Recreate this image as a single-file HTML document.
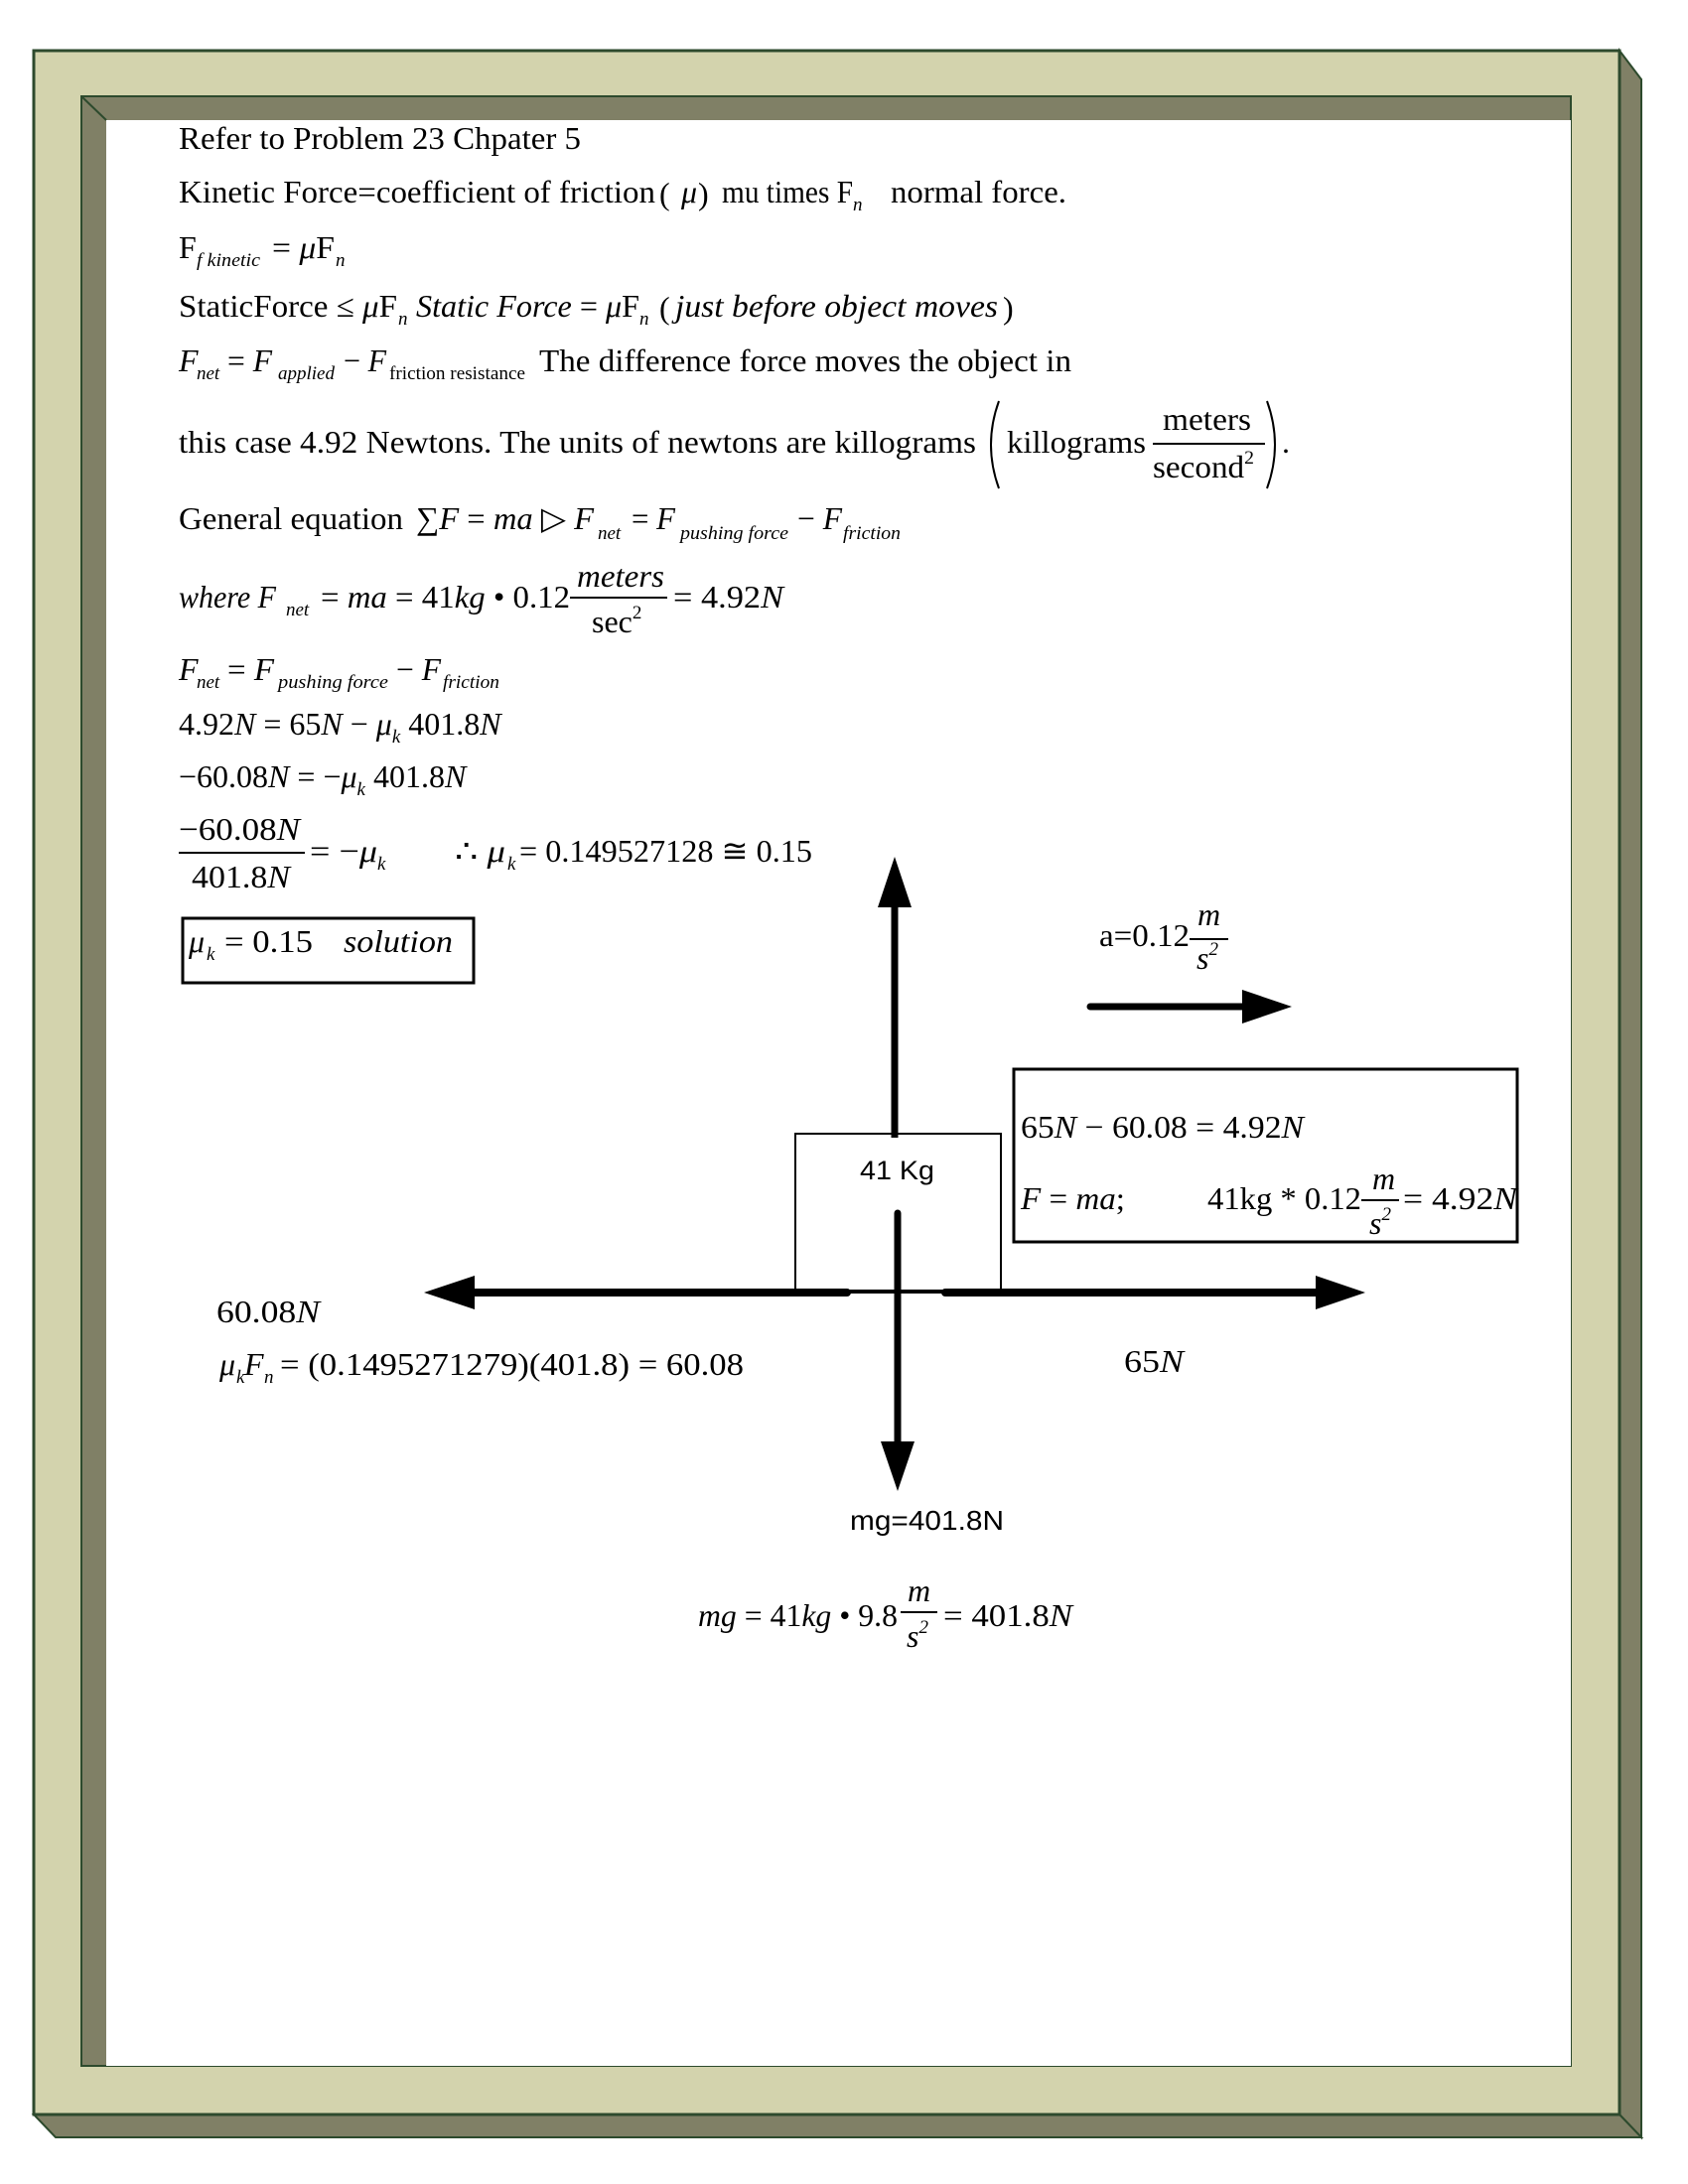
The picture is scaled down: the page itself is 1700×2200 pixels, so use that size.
<!DOCTYPE html>
<html><head><meta charset="utf-8"><style>
html,body{margin:0;padding:0;background:#fff;}
svg{display:block;}
text{font-family:"Liberation Serif",serif;fill:#000;}
.m{font-size:32px;}
.s{font-size:19px;}
.i{font-style:italic;}
.sans{font-family:"Liberation Sans",sans-serif;}
</style></head><body>
<svg width="1700" height="2200" viewBox="0 0 1700 2200" xmlns="http://www.w3.org/2000/svg">
<polygon points="1631,51 1653,80 1653,2153 1631,2130" fill="#808066" stroke="#2d4a2d" stroke-width="2"/>
<polygon points="34,2130 1631,2130 1653,2153 56,2153" fill="#808066" stroke="#2d4a2d" stroke-width="2"/>
<rect x="34" y="51" width="1597" height="2079" fill="#d3d3ad" stroke="#2d4a2d" stroke-width="3"/>
<rect x="82" y="97" width="1500" height="1984" fill="#808066" stroke="#2d4a2d" stroke-width="2"/>
<rect x="107" y="121" width="1475" height="1960" fill="#fff"/>
<line x1="82" y1="97" x2="107" y2="121" stroke="#2d4a2d" stroke-width="2"/>

<text class="m" x="180" y="150" textLength="405" lengthAdjust="spacingAndGlyphs">Refer to Problem 23 Chpater 5</text>

<text class="m" x="180" y="204" textLength="480" lengthAdjust="spacingAndGlyphs">Kinetic Force=coefficient of friction</text>
<text class="m" x="664" y="206">(</text><text class="m i" x="686" y="204">μ</text><text class="m" x="703" y="206">)</text>
<text class="m" x="727" y="204" textLength="132" lengthAdjust="spacingAndGlyphs">mu times F</text>
<text class="s i" x="859" y="212">n</text>
<text class="m" x="897" y="204" textLength="177" lengthAdjust="spacingAndGlyphs">normal force.</text>

<text class="m" x="180" y="260">F</text>
<text class="s i" x="198" y="268" textLength="64" lengthAdjust="spacingAndGlyphs">f kinetic</text>
<text class="m" x="274" y="260" textLength="63" lengthAdjust="spacingAndGlyphs">= <tspan class="i">μ</tspan>F</text>
<text class="s i" x="338" y="268">n</text>

<text class="m" x="180" y="319" textLength="220" lengthAdjust="spacingAndGlyphs">StaticForce ≤ <tspan class="i">μ</tspan>F</text>
<text class="s i" x="401" y="327">n</text>
<text class="m" x="419" y="319" textLength="225" lengthAdjust="spacingAndGlyphs"><tspan class="i">Static Force</tspan> = <tspan class="i">μ</tspan>F</text>
<text class="s i" x="644" y="327">n</text>
<text class="m" x="664" y="321">(</text>
<text class="m i" x="680" y="319" textLength="325" lengthAdjust="spacingAndGlyphs">just before object moves</text>
<text class="m" x="1010" y="321">)</text>

<text class="m i" x="180" y="374">F</text>
<text class="s i" x="198" y="382">net</text>
<text class="m" x="229" y="374" textLength="45" lengthAdjust="spacingAndGlyphs">= <tspan class="i">F</tspan></text>
<text class="s i" x="280" y="382" textLength="57" lengthAdjust="spacingAndGlyphs">applied</text>
<text class="m" x="346" y="374" textLength="43" lengthAdjust="spacingAndGlyphs">− <tspan class="i">F</tspan></text>
<text class="s" x="392" y="382" textLength="137" lengthAdjust="spacingAndGlyphs">friction resistance</text>
<text class="m" x="543" y="374" textLength="536" lengthAdjust="spacingAndGlyphs">The difference force moves the object in</text>

<text class="m" x="180" y="456" textLength="803" lengthAdjust="spacingAndGlyphs">this case 4.92 Newtons. The units of newtons are killograms</text>
<path d="M1006,404 Q990,448 1006,492" fill="none" stroke="#000" stroke-width="2"/>
<text class="m" x="1014" y="456" textLength="140" lengthAdjust="spacingAndGlyphs">killograms</text>
<text class="m" x="1171" y="433" textLength="89" lengthAdjust="spacingAndGlyphs">meters</text>
<line x1="1161" y1="447" x2="1274" y2="447" stroke="#000" stroke-width="2"/>
<text class="m" x="1161" y="481" textLength="102" lengthAdjust="spacingAndGlyphs">second<tspan class="s" dy="-14">2</tspan></text>
<path d="M1276,404 Q1292,448 1276,492" fill="none" stroke="#000" stroke-width="2"/>
<text class="m" x="1291" y="456">.</text>

<text class="m" x="180" y="533" textLength="226" lengthAdjust="spacingAndGlyphs">General equation</text>
<text class="m" x="419" y="533" textLength="179" lengthAdjust="spacingAndGlyphs">∑<tspan class="i">F</tspan> = <tspan class="i">ma</tspan> ▷ <tspan class="i">F</tspan></text>
<text class="s i" x="602" y="543">net</text>
<text class="m" x="636" y="533" textLength="44" lengthAdjust="spacingAndGlyphs">= <tspan class="i">F</tspan></text>
<text class="s i" x="685" y="543" textLength="109" lengthAdjust="spacingAndGlyphs">pushing force</text>
<text class="m" x="803" y="533" textLength="45" lengthAdjust="spacingAndGlyphs">− <tspan class="i">F</tspan></text>
<text class="s i" x="849" y="543" textLength="58" lengthAdjust="spacingAndGlyphs">friction</text>

<text class="m i" x="180" y="612" textLength="98" lengthAdjust="spacingAndGlyphs">where F</text>
<text class="s i" x="288" y="620">net</text>
<text class="m" x="323" y="612" textLength="251" lengthAdjust="spacingAndGlyphs">= <tspan class="i">ma</tspan> = 41<tspan class="i">kg</tspan> • 0.12</text>
<text class="m i" x="581" y="591" textLength="88" lengthAdjust="spacingAndGlyphs">meters</text>
<line x1="574" y1="602" x2="672" y2="602" stroke="#000" stroke-width="2"/>
<text class="m" x="596" y="637">sec<tspan class="s" dy="-14">2</tspan></text>
<text class="m" x="678" y="612" textLength="111" lengthAdjust="spacingAndGlyphs">= 4.92<tspan class="i">N</tspan></text>

<text class="m i" x="180" y="685">F</text>
<text class="s i" x="198" y="693">net</text>
<text class="m" x="229" y="685" textLength="47" lengthAdjust="spacingAndGlyphs">= <tspan class="i">F</tspan></text>
<text class="s i" x="280" y="693" textLength="111" lengthAdjust="spacingAndGlyphs">pushing force</text>
<text class="m" x="399" y="685" textLength="45" lengthAdjust="spacingAndGlyphs">− <tspan class="i">F</tspan></text>
<text class="s i" x="446" y="693" textLength="57" lengthAdjust="spacingAndGlyphs">friction</text>

<text class="m" x="180" y="740">4.92<tspan class="i">N</tspan> = 65<tspan class="i">N</tspan> − <tspan class="i">μ</tspan><tspan class="s i" dy="8">k</tspan><tspan dy="-8"> 401.8</tspan><tspan class="i">N</tspan></text>

<text class="m" x="180" y="793">−60.08<tspan class="i">N</tspan> = −<tspan class="i">μ</tspan><tspan class="s i" dy="8">k</tspan><tspan dy="-8"> 401.8</tspan><tspan class="i">N</tspan></text>

<text class="m" x="180" y="846" textLength="122" lengthAdjust="spacingAndGlyphs">−60.08<tspan class="i">N</tspan></text>
<line x1="180" y1="859" x2="307" y2="859" stroke="#000" stroke-width="2"/>
<text class="m" x="193" y="894" textLength="99" lengthAdjust="spacingAndGlyphs">401.8<tspan class="i">N</tspan></text>
<text class="m" x="312" y="868" textLength="68" lengthAdjust="spacingAndGlyphs">= −<tspan class="i">μ</tspan></text>
<text class="s i" x="380" y="876">k</text>
<text class="m" x="458" y="868" textLength="51" lengthAdjust="spacingAndGlyphs">∴ <tspan class="i">μ</tspan></text>
<text class="s i" x="511" y="876">k</text>
<text class="m" x="523" y="868" textLength="295" lengthAdjust="spacingAndGlyphs">= 0.149527128 ≅ 0.15</text>

<rect x="184" y="925" width="293" height="65" fill="none" stroke="#000" stroke-width="3"/>
<text class="m i" x="190" y="959">μ</text>
<text class="s i" x="208" y="967">k</text>
<text class="m" x="226" y="959" textLength="89" lengthAdjust="spacingAndGlyphs">= 0.15</text>
<text class="m i" x="346" y="959" textLength="110" lengthAdjust="spacingAndGlyphs">solution</text>

<text class="m" x="1107" y="953" textLength="91" lengthAdjust="spacingAndGlyphs">a=0.12</text>
<text class="m i" x="1206" y="932">m</text>
<line x1="1198" y1="946" x2="1237" y2="946" stroke="#000" stroke-width="2"/>
<text class="m i" x="1205" y="976">s<tspan class="s" dy="-14">2</tspan></text>

<rect x="1021" y="1077" width="507" height="174" fill="none" stroke="#000" stroke-width="3"/>
<text class="m" x="1028" y="1146" textLength="285" lengthAdjust="spacingAndGlyphs">65<tspan class="i">N</tspan> − 60.08 = 4.92<tspan class="i">N</tspan></text>
<text class="m" x="1028" y="1218" textLength="105" lengthAdjust="spacingAndGlyphs"><tspan class="i">F</tspan> = <tspan class="i">ma</tspan>;</text>
<text class="m" x="1216" y="1218" textLength="155" lengthAdjust="spacingAndGlyphs">41kg * 0.12</text>
<text class="m i" x="1382" y="1198">m</text>
<line x1="1371" y1="1209" x2="1409" y2="1209" stroke="#000" stroke-width="2"/>
<text class="m i" x="1379" y="1243">s<tspan class="s" dy="-14">2</tspan></text>
<text class="m" x="1413" y="1218" textLength="115" lengthAdjust="spacingAndGlyphs">= 4.92<tspan class="i">N</tspan></text>

<rect x="801" y="1142" width="207" height="158" fill="#fff" stroke="#000" stroke-width="2"/>
<text class="sans" x="866" y="1188" font-size="27" textLength="75" lengthAdjust="spacingAndGlyphs">41 Kg</text>

<line x1="901" y1="1146" x2="901" y2="905" stroke="#000" stroke-width="7"/>
<polygon points="901,863 884,914 918,914" fill="#000"/>
<line x1="1098" y1="1014" x2="1256" y2="1014" stroke="#000" stroke-width="7" stroke-linecap="round"/>
<polygon points="1301,1014 1251,997 1251,1031" fill="#000"/>
<line x1="904" y1="1222" x2="904" y2="1460" stroke="#000" stroke-width="7" stroke-linecap="round"/>
<polygon points="904,1502 887,1452 921,1452" fill="#000"/>
<line x1="470" y1="1302" x2="853" y2="1302" stroke="#000" stroke-width="8" stroke-linecap="round"/>
<polygon points="427,1302 478,1285 478,1319" fill="#000"/>
<line x1="853" y1="1302" x2="952" y2="1302" stroke="#000" stroke-width="2"/>
<line x1="952" y1="1302" x2="1330" y2="1302" stroke="#000" stroke-width="8" stroke-linecap="round"/>
<polygon points="1375,1302 1325,1285 1325,1319" fill="#000"/>

<text class="m" x="218" y="1332" textLength="104" lengthAdjust="spacingAndGlyphs">60.08<tspan class="i">N</tspan></text>
<text class="m i" x="221" y="1385">μ</text>
<text class="s i" x="238" y="1393">k</text>
<text class="m i" x="246" y="1385">F</text>
<text class="s i" x="266" y="1393">n</text>
<text class="m" x="282" y="1385" textLength="467" lengthAdjust="spacingAndGlyphs">= (0.1495271279)(401.8) = 60.08</text>
<text class="m" x="1132" y="1382" textLength="60" lengthAdjust="spacingAndGlyphs">65<tspan class="i">N</tspan></text>
<text class="sans" x="856" y="1541" font-size="28" textLength="155" lengthAdjust="spacingAndGlyphs">mg=401.8N</text>

<text class="m" x="703" y="1638" textLength="201" lengthAdjust="spacingAndGlyphs"><tspan class="i">mg</tspan> = 41<tspan class="i">kg</tspan> • 9.8</text>
<text class="m i" x="914" y="1613">m</text>
<line x1="907" y1="1624" x2="944" y2="1624" stroke="#000" stroke-width="2"/>
<text class="m i" x="913" y="1659">s<tspan class="s" dy="-14">2</tspan></text>
<text class="m" x="950" y="1638" textLength="130" lengthAdjust="spacingAndGlyphs">= 401.8<tspan class="i">N</tspan></text>
</svg>
</body></html>
